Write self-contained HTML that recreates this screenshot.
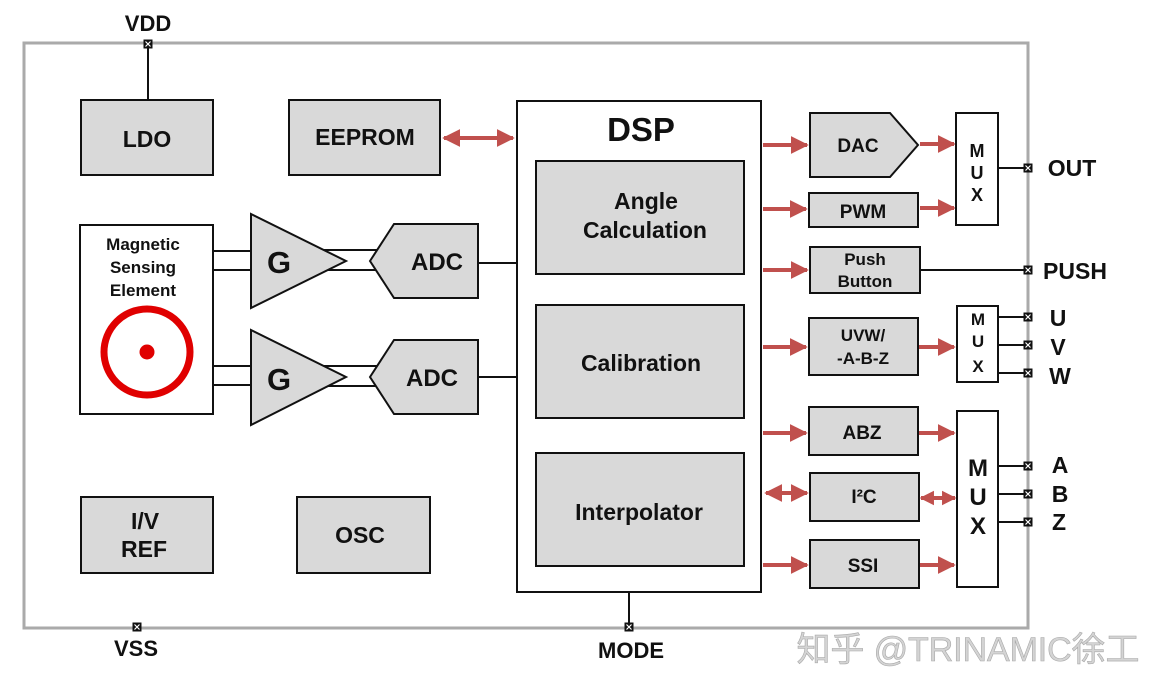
<!DOCTYPE html>
<html><head><meta charset="utf-8"><style>
html,body{margin:0;padding:0;background:#fff;}
svg{display:block;}
text{font-family:"Liberation Sans","Noto Sans CJK SC",sans-serif;font-weight:bold;fill:#111;text-anchor:middle;}
.b{fill:#d9d9d9;stroke:#111;stroke-width:2;}
.w{fill:#fff;stroke:#111;stroke-width:2;}
.l{stroke:#111;stroke-width:2;fill:none;}
.r{stroke:#c0504d;stroke-width:4;fill:none;}
</style></head><body>
<svg width="1169" height="695" viewBox="0 0 1169 695" xmlns="http://www.w3.org/2000/svg">
<defs>
<marker id="ah" viewBox="0 0 10 10" refX="9" refY="5" markerWidth="4.5" markerHeight="4.5" orient="auto-start-reverse" markerUnits="strokeWidth"><path d="M0,0 L10,5 L0,10 z" fill="#c0504d"/></marker>
<marker id="as" viewBox="0 0 10 10" refX="9" refY="5" markerWidth="3.6" markerHeight="4.2" orient="auto-start-reverse" markerUnits="strokeWidth"><path d="M0,0 L10,5 L0,10 z" fill="#c0504d"/></marker>
<g id="pin"><rect x="-4.5" y="-4.5" width="9" height="9" fill="#111"/><path d="M-2.5,-2.5 L2.5,2.5 M2.5,-2.5 L-2.5,2.5" stroke="#fff" stroke-width="1.2"/></g>
</defs>
<rect x="24" y="43" width="1004" height="585" fill="none" stroke="#aaa" stroke-width="3"/>
<line class="l" x1="148" y1="44" x2="148" y2="100"/>
<text x="148" y="31" font-size="22">VDD</text>
<rect class="b" x="81" y="100" width="132" height="75"/>
<text x="147" y="147" font-size="23">LDO</text>
<rect class="b" x="289" y="100" width="151" height="75"/>
<text x="365" y="145" font-size="23">EEPROM</text>
<line class="r" x1="444" y1="138" x2="513" y2="138" marker-start="url(#ah)" marker-end="url(#ah)"/>
<rect class="w" x="80" y="225" width="133" height="189"/>
<text x="143" y="250" font-size="17">Magnetic</text>
<text x="143" y="273" font-size="17">Sensing</text>
<text x="143" y="296" font-size="17">Element</text>
<circle cx="147" cy="352" r="43" fill="none" stroke="#e00000" stroke-width="7"/>
<circle cx="147" cy="352" r="7.5" fill="#e00000"/>
<line class="l" x1="213" y1="251" x2="251" y2="251"/><line class="l" x1="213" y1="270" x2="251" y2="270"/>
<line class="l" x1="213" y1="366" x2="251" y2="366"/><line class="l" x1="213" y1="385" x2="251" y2="385"/>
<line class="l" x1="320" y1="250" x2="378" y2="250"/><line class="l" x1="320" y1="270" x2="378" y2="270"/>
<line class="l" x1="320" y1="366" x2="378" y2="366"/><line class="l" x1="320" y1="386" x2="378" y2="386"/>
<polygon class="b" points="251,214 346,261 251,308"/>
<text x="279" y="273" font-size="31">G</text>
<polygon class="b" points="251,330 346,377 251,425"/>
<text x="279" y="390" font-size="31">G</text>
<polygon class="b" points="370,261 394,224 478,224 478,298 394,298"/>
<text x="437" y="270" font-size="24">ADC</text>
<polygon class="b" points="370,377 394,340 478,340 478,414 394,414"/>
<text x="432" y="386" font-size="24">ADC</text>
<line class="l" x1="478" y1="263" x2="517" y2="263"/>
<line class="l" x1="478" y1="377" x2="517" y2="377"/>
<rect class="w" x="517" y="101" width="244" height="491"/>
<text x="641" y="141" font-size="33">DSP</text>
<rect class="b" x="536" y="161" width="208" height="113"/>
<text x="646" y="209" font-size="23">Angle</text>
<text x="645" y="238" font-size="23">Calculation</text>
<rect class="b" x="536" y="305" width="208" height="113"/>
<text x="641" y="371" font-size="23">Calibration</text>
<rect class="b" x="536" y="453" width="208" height="113"/>
<text x="639" y="520" font-size="23">Interpolator</text>
<line class="l" x1="629" y1="592" x2="629" y2="627"/>
<rect class="b" x="81" y="497" width="132" height="76"/>
<text x="145" y="529" font-size="23">I/V</text>
<text x="144" y="557" font-size="23">REF</text>
<rect class="b" x="297" y="497" width="133" height="76"/>
<text x="360" y="543" font-size="23">OSC</text>
<polygon class="b" points="810,113 890,113 918,145 890,177 810,177"/>
<text x="858" y="152" font-size="19">DAC</text>
<rect class="b" x="809" y="193" width="109" height="34"/>
<text x="863" y="218" font-size="19">PWM</text>
<rect class="b" x="810" y="247" width="110" height="46"/>
<text x="865" y="265" font-size="17">Push</text>
<text x="865" y="287" font-size="17">Button</text>
<rect class="b" x="809" y="318" width="109" height="57"/>
<text x="863" y="341" font-size="17">UVW/</text>
<text x="863" y="364" font-size="17">-A-B-Z</text>
<rect class="b" x="809" y="407" width="109" height="48"/>
<text x="862" y="439" font-size="19">ABZ</text>
<rect class="b" x="810" y="473" width="109" height="48"/>
<text x="864" y="503" font-size="19">I²C</text>
<rect class="b" x="810" y="540" width="109" height="48"/>
<text x="863" y="572" font-size="19">SSI</text>
<line class="r" x1="763" y1="145" x2="807" y2="145" marker-end="url(#ah)"/>
<line class="r" x1="763" y1="209" x2="806" y2="209" marker-end="url(#ah)"/>
<line class="r" x1="763" y1="270" x2="807" y2="270" marker-end="url(#ah)"/>
<line class="r" x1="763" y1="347" x2="806" y2="347" marker-end="url(#ah)"/>
<line class="r" x1="763" y1="433" x2="806" y2="433" marker-end="url(#ah)"/>
<line class="r" x1="766" y1="493" x2="807" y2="493" marker-start="url(#ah)" marker-end="url(#ah)"/>
<line class="r" x1="763" y1="565" x2="807" y2="565" marker-end="url(#ah)"/>
<line class="r" x1="920" y1="144" x2="954" y2="144" marker-end="url(#ah)"/>
<line class="r" x1="920" y1="208" x2="954" y2="208" marker-end="url(#ah)"/>
<line class="r" x1="919" y1="347" x2="954" y2="347" marker-end="url(#ah)"/>
<line class="r" x1="919" y1="433" x2="954" y2="433" marker-end="url(#ah)"/>
<line class="r" x1="921" y1="498" x2="955" y2="498" marker-start="url(#as)" marker-end="url(#as)"/>
<line class="r" x1="920" y1="565" x2="954" y2="565" marker-end="url(#ah)"/>
<rect class="w" x="956" y="113" width="42" height="112"/>
<text x="977" y="157" font-size="18">M</text><text x="977" y="179" font-size="18">U</text><text x="977" y="201" font-size="18">X</text>
<rect class="w" x="957" y="306" width="41" height="76"/>
<text x="978" y="325" font-size="17">M</text><text x="978" y="347" font-size="17">U</text><text x="978" y="372" font-size="17">X</text>
<rect class="w" x="957" y="411" width="41" height="176"/>
<text x="978" y="476" font-size="24">M</text><text x="978" y="505" font-size="24">U</text><text x="978" y="534" font-size="24">X</text>
<line class="l" x1="998" y1="168" x2="1028" y2="168"/>
<line class="l" x1="920" y1="270" x2="1028" y2="270"/>
<line class="l" x1="998" y1="317" x2="1028" y2="317"/>
<line class="l" x1="998" y1="345" x2="1028" y2="345"/>
<line class="l" x1="998" y1="373" x2="1028" y2="373"/>
<line class="l" x1="998" y1="466" x2="1028" y2="466"/>
<line class="l" x1="998" y1="494" x2="1028" y2="494"/>
<line class="l" x1="998" y1="522" x2="1028" y2="522"/>
<use href="#pin" x="148" y="44"/>
<use href="#pin" x="137" y="627"/>
<use href="#pin" x="629" y="627"/>
<use href="#pin" x="1028" y="168"/>
<use href="#pin" x="1028" y="270"/>
<use href="#pin" x="1028" y="317"/>
<use href="#pin" x="1028" y="345"/>
<use href="#pin" x="1028" y="373"/>
<use href="#pin" x="1028" y="466"/>
<use href="#pin" x="1028" y="494"/>
<use href="#pin" x="1028" y="522"/>
<text x="1072" y="176" font-size="23">OUT</text>
<text x="1075" y="279" font-size="23">PUSH</text>
<text x="1058" y="326" font-size="23">U</text>
<text x="1058" y="355" font-size="23">V</text>
<text x="1060" y="384" font-size="23">W</text>
<text x="1060" y="473" font-size="23">A</text>
<text x="1060" y="502" font-size="23">B</text>
<text x="1059" y="530" font-size="23">Z</text>
<text x="136" y="656" font-size="22">VSS</text>
<text x="631" y="658" font-size="22">MODE</text>
<text x="968" y="661" font-size="34" textLength="343" style="font-weight:normal;fill:#d4d4d4;stroke:#a8a8a8;stroke-width:0.6">知乎 @TRINAMIC徐工</text>
</svg>
</body></html>
